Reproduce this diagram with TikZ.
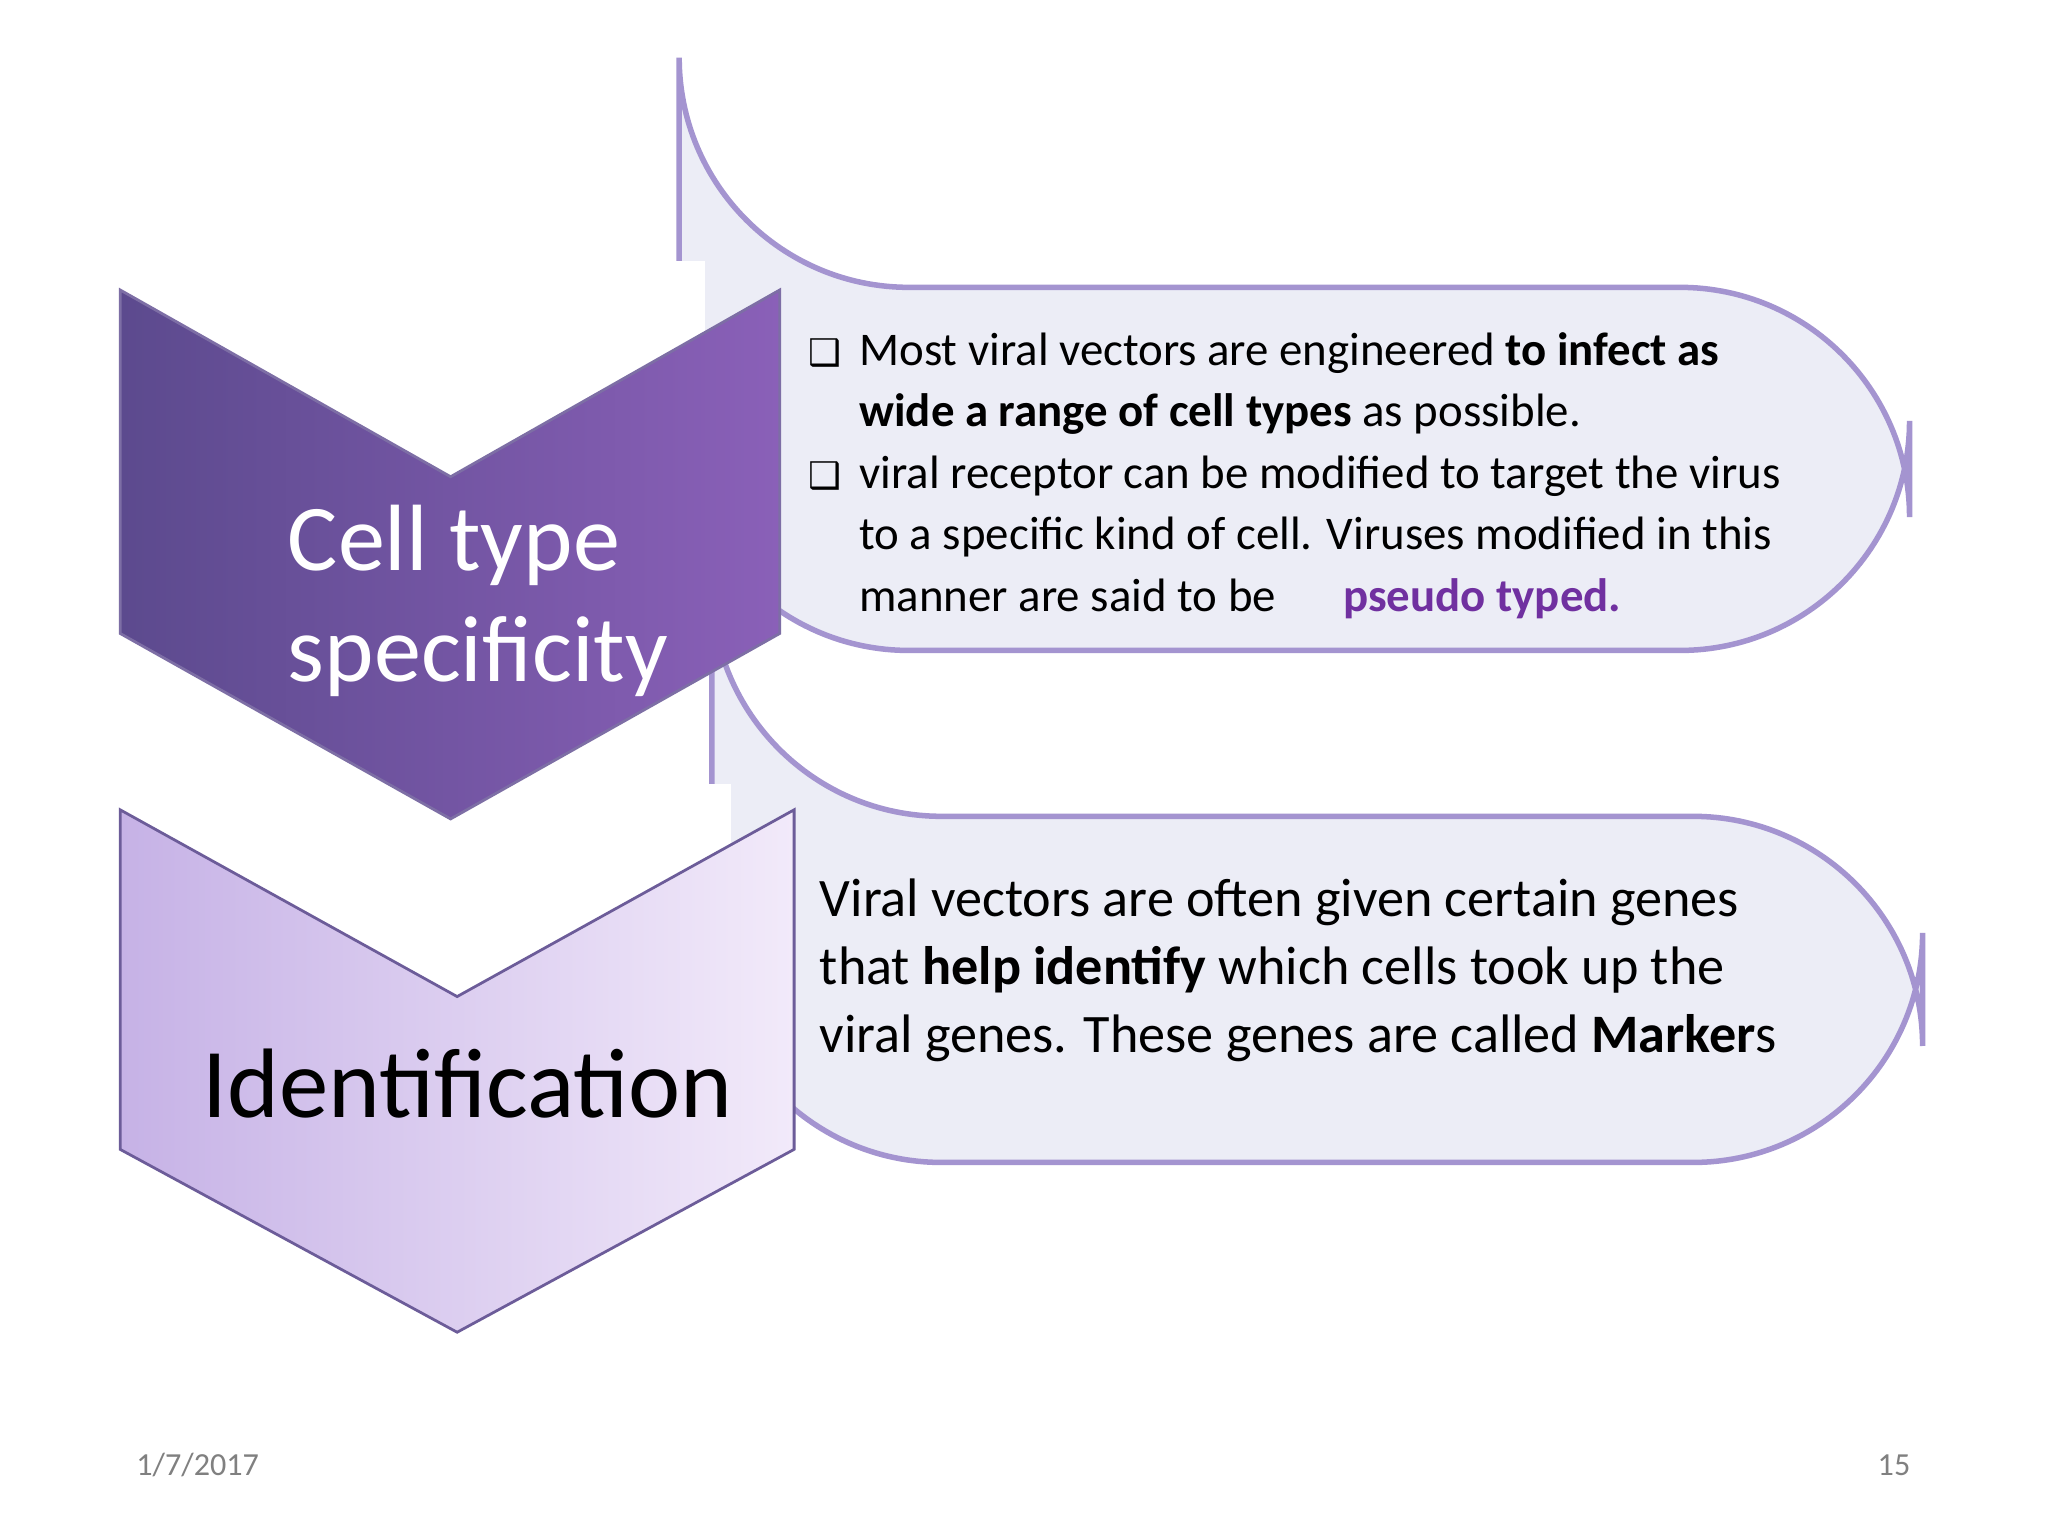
\documentclass[tikz,border=0pt]{standalone}
\usepackage{fontspec}
\setmainfont{Carlito}
\newfontfamily\dv{DejaVu Sans}
\begin{document}
\begin{tikzpicture}[x=0.01cm,y=-0.01cm,
  box/.style={draw=boxline,line width=1.2pt,fill=boxfill,rounded corners=50},
  chev/.style={line width=0.6pt}]
\definecolor{boxfill}{HTML}{ECEDF6}
\definecolor{boxline}{HTML}{A494D0}
\definecolor{darkA}{HTML}{5C4A8E}
\definecolor{darkB}{HTML}{8A60B8}
\definecolor{lightA}{HTML}{C6B2E6}
\definecolor{lightB}{HTML}{F2EAFA}
\definecolor{pt}{HTML}{7030A0}
\useasboundingbox[fill=white] (0,0) rectangle (1568,1176);
% boxes
\path[box] (520,220) -| (1462,498) -| (520,220) -- cycle;
\fill[white] (0,200) rectangle (540,520);
\path[box] (545,625) -| (1472,890) -| (545,625) -- cycle;
\fill[white] (0,600) rectangle (560,910);
% chevrons
\shade[left color=darkA,right color=darkB,draw=darkA!80,chev]
  (92,222) -- (345,365) -- (597,222) -- (597,485) -- (345,627) -- (92,485) -- cycle;
\shade[left color=lightA,right color=lightB,draw=darkA!90,chev]
  (92,620) -- (350,763) -- (608,620) -- (608,880) -- (350,1020) -- (92,880) -- cycle;
\node[anchor=west,text=white,align=left,font=\fontsize{20.5}{24}\selectfont] (t1) at (208,460) {Cell type\\specificity};
\node[text=black,font=\fontsize{21.5}{24}\selectfont] (t2) at (358,830) {Identification};
\node[anchor=north west,inner sep=0pt,font=\fontsize{10.2}{13.4}\selectfont] (b1) at (618,246) {%
\begin{tabular}{@{}l@{\hspace{4pt}}l@{}}
{\dv\footnotesize ❑} & Most viral vectors are engineered \textbf{to infect as}\\
 & \textbf{wide a range of cell types} as possible.\\
{\dv\footnotesize ❑} & viral receptor can be modified to target the virus\\
 & to a specific kind of cell. Viruses modified in this\\
 & manner are said to be \hspace{10pt} {\color{pt}\textbf{pseudo typed.}}
\end{tabular}};
\node[anchor=north west,inner sep=0pt,align=left,font=\fontsize{11.8}{14.8}\selectfont] (b2) at (627,672) {%
Viral vectors are often given certain genes\\
that \textbf{help identify} which cells took up the\\
viral genes. These genes are called \textbf{Marker}s};
\node[text=gray,anchor=west,font=\fontsize{7}{8}\selectfont] (d) at (92,1122) {1/7/2017};
\node[text=gray,anchor=east,font=\fontsize{7}{8}\selectfont] (n) at (1475,1122) {15};
\end{tikzpicture}
\end{document}
